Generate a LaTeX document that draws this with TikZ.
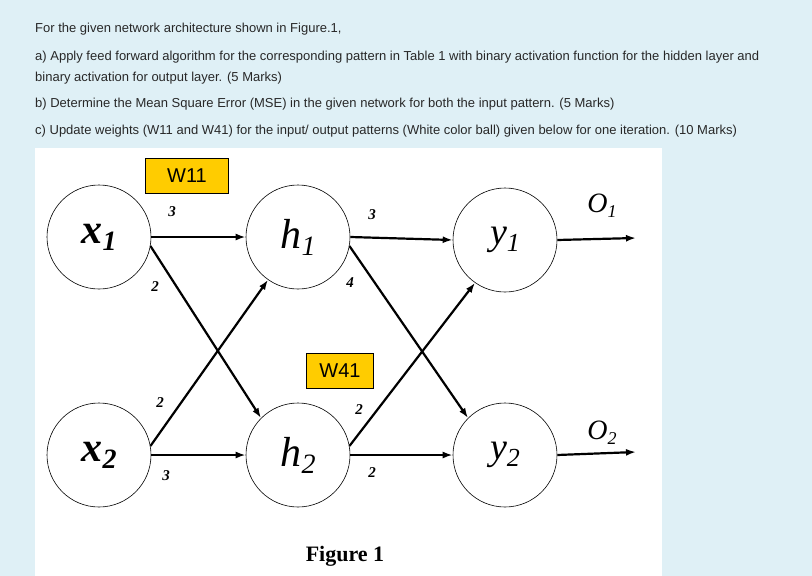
\documentclass[tikz,border=0pt]{standalone}
\usepackage{fontspec}
\setmainfont{Liberation Serif}
\newfontfamily\sansf{Liberation Sans}
\usetikzlibrary{arrows.meta}
\definecolor{bgblue}{RGB}{223,240,246}
\definecolor{wgold}{RGB}{255,204,0}
\definecolor{txt}{RGB}{40,40,40}
\begin{document}
\begin{tikzpicture}[x=1pt,y=-1pt,
  neuron/.style={draw,circle,minimum size=104pt,inner sep=0pt,line width=0.6pt,font=\fontsize{42}{42}\selectfont\bfseries\itshape},
  conn/.style={line width=2.2pt,-{Latex[length=10pt,width=7pt]}},
  wlab/.style={font=\fontsize{15}{15}\selectfont\bfseries\itshape},
  wbox/.style={draw,fill=wgold,line width=1pt,inner sep=2pt,font=\sansf\fontsize{20}{20}\selectfont,anchor=west,minimum height=35pt},
  qtext/.style={anchor=west,font=\sansf\fontsize{13}{15}\selectfont,text=txt,inner sep=0pt}]
\useasboundingbox (0,0) rectangle (812,576);
\fill[bgblue] (0,0) rectangle (812,576);
\fill[white] (35,148) rectangle (662,576);
\node[qtext] (t1) at (35,29) {For the given network architecture shown in Figure.1,};
\node[qtext] (t2) at (35,57) {a) Apply feed forward algorithm for the corresponding pattern in Table 1 with binary activation function for the hidden layer and};
\node[qtext] (t3) at (35,78) {binary activation for output layer. (5 Marks)};
\node[qtext] (t4) at (35,104) {b) Determine the Mean Square Error (MSE) in the given network for both the input pattern. (5 Marks)};
\node[qtext] (t5) at (35,131) {c) Update weights (W11 and W41) for the input/ output patterns (White color ball) given below for one iteration. (10 Marks)};
\node[neuron] (x1) at (99,237) {x\raisebox{-7pt}{\fontsize{28}{28}\selectfont 1}};
\node[neuron] (x2) at (99,455) {x\raisebox{-7pt}{\fontsize{28}{28}\selectfont 2}};
\node[neuron,font=\fontsize{42}{42}\selectfont\itshape] (h1) at (298,237) {h\raisebox{-7pt}{\fontsize{28}{28}\selectfont 1}};
\node[neuron,font=\fontsize{42}{42}\selectfont\itshape] (h2) at (298,455) {h\raisebox{-7pt}{\fontsize{28}{28}\selectfont 2}};
\node[neuron,font=\fontsize{38}{38}\selectfont\itshape] (y1) at (505,240) {y\raisebox{-7pt}{\fontsize{26}{26}\selectfont 1}};
\node[neuron,font=\fontsize{38}{38}\selectfont\itshape] (y2) at (505,455) {y\raisebox{-7pt}{\fontsize{26}{26}\selectfont 2}};
\coordinate (o1) at (636,238);
\coordinate (o2) at (636,452);
\draw[conn] (x1.east) -- (h1.west);
\draw[conn] (x1.-10) -- (h2.135);
\draw[conn] (x2.10) -- (h1.-125);
\draw[conn] (x2.east) -- (h2.west);
\draw[conn] (h1.east) -- (y1.west);
\draw[conn] (h1.-10) -- (y2.135);
\draw[conn] (h2.10) -- (y1.-125);
\draw[conn] (h2.east) -- (y2.west);
\draw[conn] (y1.east) -- (o1);
\draw[conn] (y2.east) -- (o2);
\node[wlab] (l1) at (172,212) {3};
\node[wlab] (l2) at (155,287) {2};
\node[wlab] (l3) at (160,403) {2};
\node[wlab] (l4) at (166,476) {3};
\node[wlab] (l5) at (372,215) {3};
\node[wlab] (l6) at (350,283) {4};
\node[wlab] (l7) at (359,410) {2};
\node[wlab] (l8) at (372,473) {2};
\node[wbox,minimum width=83pt] (w11) at (145,176) {W11};
\node[wbox,minimum width=67pt] (w41) at (306,371) {W41};
\node[font=\fontsize{28}{28}\selectfont\itshape] (O1) at (602,206) {O\raisebox{-5pt}{\fontsize{18}{18}\selectfont 1}};
\node[font=\fontsize{28}{28}\selectfont\itshape] (O2) at (602,433) {O\raisebox{-5pt}{\fontsize{18}{18}\selectfont 2}};
\node[font=\fontsize{22}{22}\selectfont\bfseries] (fig) at (345,556) {Figure 1};
\end{tikzpicture}
\end{document}
